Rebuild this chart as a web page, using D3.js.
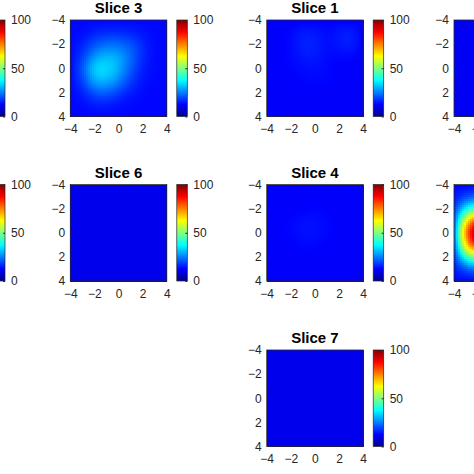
<!DOCTYPE html>
<html>
<head>
<meta charset="utf-8">
<script src="https://cdn.jsdelivr.net/npm/d3@7/dist/d3.min.js"></script>
<style>
  html, body { margin: 0; padding: 0; background: #fff; }
  svg { display: block; }
</style>
</head>
<body>
<svg id="chart" width="474" height="474"></svg>
<script>
;(function (d3) {
  'use strict';

  // grids: rows are y = -4..4 (top to bottom), columns x = -4..4
  var axisTicks = [-4, -2, 0, 2, 4];
  var edgeTicks = [-4, -2];
  var barTicks = [0, 50, 100];

  var slice3 = [
    [13, 13, 13, 13, 13, 13, 13, 13, 13],
    [13, 13, 15, 16, 16, 15, 14, 13, 13],
    [13, 15, 20, 23, 23, 21, 16, 13, 13],
    [13, 17, 27, 31, 29, 23, 16, 13, 13],
    [13, 20, 35, 36, 30, 21, 15, 13, 13],
    [13, 18, 31, 32, 26, 18, 14, 13, 13],
    [13, 15, 21, 23, 18, 15, 13, 13, 13],
    [13, 13, 15, 15, 14, 13, 13, 13, 13],
    [13, 13, 13, 13, 13, 13, 13, 13, 13]
  ];
  var slice1 = [
    [12, 12, 12, 12, 12, 12, 12, 12, 12],
    [12, 12, 13, 15, 15, 13, 15, 16, 12],
    [12, 12, 13, 16, 16, 13, 15, 16, 12],
    [12, 12, 13, 15, 15, 13, 13, 13, 12],
    [12, 12, 13, 13, 14, 13, 12, 12, 12],
    [12, 12, 12, 13, 13, 13, 12, 12, 12],
    [12, 12, 12, 12, 12, 12, 12, 12, 12],
    [12, 12, 12, 12, 12, 12, 12, 12, 12],
    [12, 12, 12, 12, 12, 12, 12, 12, 12]
  ];
  var slice4 = [
    [12, 12, 12, 12, 12, 12, 12, 12, 12],
    [12, 12, 12, 12, 12, 12, 12, 12, 12],
    [12, 12, 12, 12, 13, 12, 12, 12, 12],
    [12, 12, 13, 14, 14, 13, 12, 12, 12],
    [12, 12, 13, 14, 14, 13, 12, 12, 12],
    [12, 12, 12, 13, 13, 12, 12, 12, 12],
    [12, 12, 12, 12, 12, 12, 12, 12, 12],
    [12, 12, 12, 12, 12, 12, 12, 12, 12],
    [12, 12, 12, 12, 12, 12, 12, 12, 12]
  ];
  var slice6 = [
    [10.5, 10.5, 10.5, 10.5, 10.5, 10.5, 10.5, 10.5, 10.5],
    [10.5, 10.5, 10.5, 10.5, 10.5, 10.5, 10.5, 10.5, 10.5],
    [10.5, 10.5, 10.5, 10.5, 10.5, 10.5, 10.5, 10.5, 10.5],
    [10.5, 10.5, 10.5, 10.5, 10.5, 10.5, 10.5, 10.5, 10.5],
    [10.5, 10.5, 10.5, 10.5, 10.5, 10.5, 10.5, 10.5, 10.5],
    [10.5, 10.5, 10.5, 10.5, 10.5, 10.5, 10.5, 10.5, 10.5],
    [10.5, 10.5, 10.5, 10.5, 10.5, 10.5, 10.5, 10.5, 10.5],
    [10.5, 10.5, 10.5, 10.5, 10.5, 10.5, 10.5, 10.5, 10.5],
    [10.5, 10.5, 10.5, 10.5, 10.5, 10.5, 10.5, 10.5, 10.5]
  ];
  var slice7 = [
    [10.5, 10.5, 10.5, 10.5, 10.5, 10.5, 10.5, 10.5, 10.5],
    [10.5, 10.5, 10.5, 10.5, 10.5, 10.5, 10.5, 10.5, 10.5],
    [10.5, 10.5, 10.5, 10.5, 10.5, 10.5, 10.5, 10.5, 10.5],
    [10.5, 10.5, 10.5, 10.5, 10.5, 10.5, 10.5, 10.5, 10.5],
    [10.5, 10.5, 10.5, 10.5, 10.5, 10.5, 10.5, 10.5, 10.5],
    [10.5, 10.5, 10.5, 10.5, 10.5, 10.5, 10.5, 10.5, 10.5],
    [10.5, 10.5, 10.5, 10.5, 10.5, 10.5, 10.5, 10.5, 10.5],
    [10.5, 10.5, 10.5, 10.5, 10.5, 10.5, 10.5, 10.5, 10.5],
    [10.5, 10.5, 10.5, 10.5, 10.5, 10.5, 10.5, 10.5, 10.5]
  ];
  // panels cut off at the right edge of the figure
  var edgeTop = [
    [11, 11, 11, 11, 11, 11, 11, 11, 11],
    [11, 11, 11, 11, 11, 11, 11, 11, 11],
    [11, 11, 11, 11, 11, 11, 11, 11, 11],
    [11, 11, 11, 11, 11, 11, 11, 11, 11],
    [11, 11, 11, 11, 11, 11, 11, 11, 11],
    [11, 11, 11, 11, 11, 11, 11, 11, 11],
    [11, 11, 11, 11, 11, 11, 11, 11, 11],
    [11, 11, 11, 11, 11, 11, 11, 11, 11],
    [11, 11, 11, 11, 11, 11, 11, 11, 11]
  ];
  var edgeMid = [
    [13, 13, 13, 13, 13, 13, 13, 13, 13],
    [14, 18, 22, 19, 15, 13, 13, 13, 13],
    [17, 38, 48, 40, 22, 14, 13, 13, 13],
    [20, 68, 88, 72, 35, 16, 13, 13, 13],
    [22, 80, 110, 85, 40, 17, 13, 13, 13],
    [20, 70, 92, 74, 36, 16, 13, 13, 13],
    [17, 42, 52, 44, 24, 14, 13, 13, 13],
    [14, 19, 23, 20, 15, 13, 13, 13, 13],
    [13, 13, 13, 13, 13, 13, 13, 13, 13]
  ];

  var size = 96.5;
  var barGap = 10;
  var barWidth = 10.5;
  var font = "'Liberation Sans', Arial, sans-serif";
  var ink = "#262626";

  // edge panels: only what the window shows (no colorbar, first ticks only)
  var panels = [
    { title: "Slice 3", grid: slice3, x: 70.3, y: 20, bar: true },
    { title: "Slice 1", grid: slice1, x: 266.7, y: 20, bar: true },
    { title: null, grid: edgeTop, x: 454, y: 20, bar: false },
    { title: "Slice 6", grid: slice6, x: 70.3, y: 184.5, bar: true },
    { title: "Slice 4", grid: slice4, x: 266.7, y: 184.5, bar: true },
    { title: null, grid: edgeMid, x: 454, y: 184.5, bar: false },
    { title: "Slice 7", grid: slice7, x: 266.7, y: 350, bar: true }
  ];
  // colorbars of the panels cut off at the left edge
  var edgeBars = [
    { x: -5.5, y: 20 },
    { x: -5.5, y: 184.5 }
  ];

  var jet = d3.scaleLinear()
    .domain([0, 12.5, 37.5, 62.5, 87.5, 100])
    .range(["#000090", "#0000ff", "#00ffff", "#ffff00", "#ff0000", "#800000"])
    .clamp(true);

  var svg = d3.select("#chart");

  var grad = svg.append("defs").append("linearGradient")
    .attr("id", "jet")
    .attr("x1", 0).attr("y1", 1)
    .attr("x2", 0).attr("y2", 0);
  grad.selectAll("stop")
    .data(jet.domain())
    .enter().append("stop")
    .attr("offset", function (d) { return d / 100; })
    .attr("stop-color", function (d) { return jet(d); });

  var xs = d3.scaleLinear().domain([-4, 4]).range([0, size]);
  var ys = d3.scaleLinear().domain([-4, 4]).range([0, size]);

  function styleAxis(sel) {
    sel.select(".domain").remove();
    sel.attr("font-family", font).attr("font-size", 12);
    sel.selectAll("text").attr("fill", ink);
  }

  function drawHeat(g, grid) {
    var n = 48;
    var step = 8 / n;
    var rows = grid.map(function (r) { return d3.interpolateBasis(r); });
    var cells = [];
    for (var i = 0; i < n; i++) {
      var tx = (i + 0.5) / n;
      var col = d3.interpolateBasis(rows.map(function (f) { return f(tx); }));
      for (var j = 0; j < n; j++) {
        cells.push({ x: -4 + i * step, y: -4 + j * step, v: col((j + 0.5) / n) });
      }
    }
    g.append("g")
      .attr("shape-rendering", "crispEdges")
      .selectAll("rect")
      .data(cells)
      .enter().append("rect")
      .attr("x", function (d) { return xs(d.x); })
      .attr("y", function (d) { return ys(d.y); })
      .attr("width", xs(step) - xs(0) + 0.6)
      .attr("height", ys(step) - ys(0) + 0.6)
      .attr("fill", function (d) { return jet(d.v); });
  }

  function drawBar(x, y) {
    var cs = d3.scaleLinear().domain([0, 100]).range([size, 0]);
    var g = svg.append("g")
      .attr("class", "colorbar")
      .attr("transform", "translate(" + x + "," + y + ")");
    g.append("rect")
      .attr("width", barWidth)
      .attr("height", size)
      .attr("fill", "url(#jet)")
      .attr("stroke", ink)
      .attr("stroke-width", 0.7);
    g.append("g")
      .attr("transform", "translate(" + barWidth + ",0)")
      .call(d3.axisRight(cs).tickValues(barTicks).tickSize(-2).tickPadding(6))
      .call(styleAxis)
      .selectAll("line").attr("stroke", ink);
  }

  panels.forEach(function (p) {
    var g = svg.append("g")
      .attr("class", "panel")
      .attr("transform", "translate(" + p.x + "," + p.y + ")");

    drawHeat(g, p.grid);

    g.append("rect")
      .attr("width", size)
      .attr("height", size)
      .attr("fill", "none")
      .attr("stroke", ink)
      .attr("stroke-width", 0.8);

    g.append("g")
      .attr("transform", "translate(0," + size + ")")
      .call(d3.axisBottom(xs).tickValues(p.bar ? axisTicks : edgeTicks).tickSize(0).tickPadding(8))
      .call(styleAxis);

    g.append("g")
      .call(d3.axisLeft(ys).tickValues(axisTicks).tickSize(0).tickPadding(5))
      .call(styleAxis);

    if (p.title) {
      g.append("text")
        .attr("x", size / 2)
        .attr("y", -6.7)
        .attr("text-anchor", "middle")
        .attr("font-family", font)
        .attr("font-size", 15)
        .attr("font-weight", "bold")
        .attr("fill", "#000")
        .text(p.title);
    }

    if (p.bar) drawBar(p.x + size + barGap, p.y);
  });

  edgeBars.forEach(function (b) { drawBar(b.x, b.y); });

})(window.d3);
</script>
</body>
</html>
